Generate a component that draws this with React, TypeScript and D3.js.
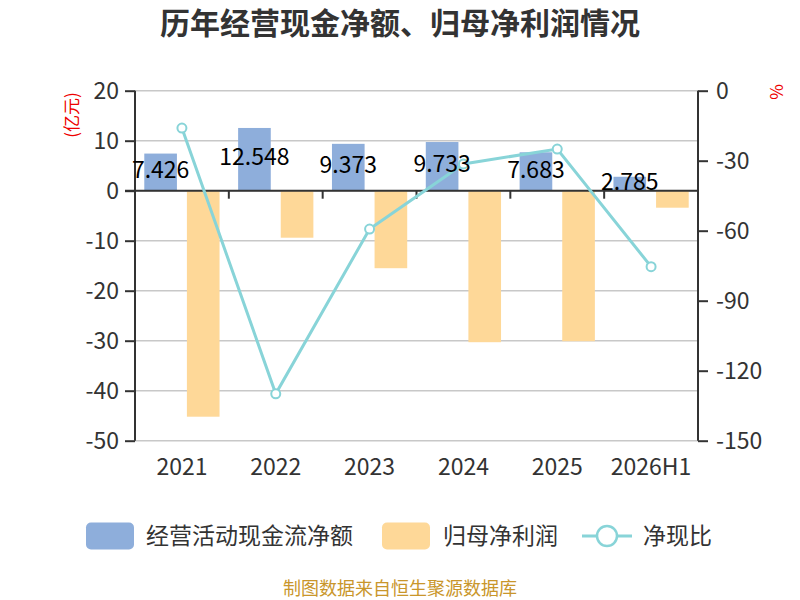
import { useEffect, useRef } from "react";
import * as d3 from "d3";

const categories = ["2021", "2022", "2023", "2024", "2025", "2026H1"];
const cashFlow = [7.426, 12.548, 9.373, 9.733, 7.683, 2.785];
const netProfit = [-45.2, -9.4, -15.5, -30.3, -30.1, -3.4];
const cashRatio = [-16.0, -129.9, -59.3, -31.4, -25.0, -75.4];
const leftTicks = [20, 10, 0, -10, -20, -30, -40, -50];
const rightTicks = [0, -30, -60, -90, -120, -150];

const FONT = "'Noto Sans CJK SC', 'Noto Sans', sans-serif";
const BLUE = "#8eaedb";
const ORANGE = "#fed898";
const TEAL = "#88d4d8";

export default function App() {
  const svgRef = useRef<SVGSVGElement>(null);

  useEffect(() => {
    if (!svgRef.current) return;
    const root = d3.select(svgRef.current);
    root.selectAll("*").remove();

    const margin = { top: 90.7, right: 102, bottom: 159.3, left: 135 };
    const width = 800 - margin.left - margin.right;
    const height = 600 - margin.top - margin.bottom;

    // title
    root.append("text")
      .attr("x", 400).attr("y", 23).attr("dy", "0.35em")
      .attr("text-anchor", "middle")
      .attr("font-family", FONT).attr("font-size", "30px").attr("font-weight", "700")
      .attr("fill", "#333")
      .text("历年经营现金净额、归母净利润情况");

    const g = root.append("g").attr("transform", `translate(${margin.left},${margin.top})`);

    const x0 = d3.scaleBand().domain(categories).range([0, width]);
    const x1 = d3.scaleBand().domain(["a", "b"]).range([0, x0.bandwidth()])
      .paddingInner(0.234).paddingOuter(0.218);
    const yL = d3.scaleLinear().domain([-50, 20]).range([height, 0]);
    const yR = d3.scaleLinear().domain([-150, 0]).range([height, 0]);

    // Grid lines
    g.selectAll(".grid")
      .data(leftTicks).enter().append("line")
      .attr("x1", 0).attr("x2", width)
      .attr("y1", d => yL(d)).attr("y2", d => yL(d))
      .attr("stroke", "#c8c8c8").attr("stroke-width", 1.5);

    // Blue bars
    g.selectAll(".bar-cash")
      .data(cashFlow).enter().append("rect")
      .attr("x", (_, i) => (x0(categories[i]) ?? 0) + (x1("a") ?? 0))
      .attr("y", d => yL(Math.max(0, d)))
      .attr("width", x1.bandwidth())
      .attr("height", d => Math.abs(yL(d) - yL(0)))
      .attr("fill", BLUE);

    // Orange bars
    g.selectAll(".bar-profit")
      .data(netProfit).enter().append("rect")
      .attr("x", (_, i) => (x0(categories[i]) ?? 0) + (x1("b") ?? 0))
      .attr("y", d => yL(Math.max(0, d)))
      .attr("width", x1.bandwidth())
      .attr("height", d => Math.abs(yL(d) - yL(0)))
      .attr("fill", ORANGE);

    const fmt = (d: d3.NumberValue) => String(d);

    // Left axis
    g.append("g")
      .call(d3.axisLeft(yL).tickValues(leftTicks).tickFormat(fmt).tickSize(10).tickPadding(6))
      .call(a => a.select(".domain").attr("stroke", "#333").attr("stroke-width", 2).attr("d", `M0,${height}V0`))
      .call(a => a.selectAll(".tick line").attr("stroke", "#333").attr("stroke-width", 2))
      .call(a => a.selectAll(".tick text").attr("fill", "#333").attr("font-size", "23px").attr("font-family", FONT));

    // Right axis
    g.append("g")
      .attr("transform", `translate(${width},0)`)
      .call(d3.axisRight(yR).tickValues(rightTicks).tickFormat(fmt).tickSize(10).tickPadding(8))
      .call(a => a.select(".domain").attr("stroke", "#333").attr("stroke-width", 2).attr("d", `M0,${height}V0`))
      .call(a => a.selectAll(".tick line").attr("stroke", "#333").attr("stroke-width", 2))
      .call(a => a.selectAll(".tick text").attr("fill", "#333").attr("font-size", "23px").attr("font-family", FONT));

    // Zero line / category axis
    g.append("line")
      .attr("x1", -10).attr("x2", width)
      .attr("y1", yL(0)).attr("y2", yL(0))
      .attr("stroke", "#333").attr("stroke-width", 2);
    g.selectAll(".cat-tick")
      .data(categories.slice(1)).enter().append("line")
      .attr("x1", d => x0(d) ?? 0).attr("x2", d => x0(d) ?? 0)
      .attr("y1", yL(0)).attr("y2", yL(0) + 8)
      .attr("stroke", "#333").attr("stroke-width", 2);

    // Category labels
    g.selectAll(".cat-label")
      .data(categories).enter().append("text")
      .attr("x", d => (x0(d) ?? 0) + x0.bandwidth() / 2)
      .attr("y", height + 26).attr("dy", "0.35em")
      .attr("text-anchor", "middle")
      .attr("fill", "#333").attr("font-size", "23px").attr("font-family", FONT)
      .text(d => d);

    // Line
    const line = d3.line<number>()
      .x((_, i) => (x0(categories[i]) ?? 0) + x0.bandwidth() / 2)
      .y(d => yR(d));
    g.append("path")
      .datum(cashRatio)
      .attr("d", line)
      .attr("fill", "none").attr("stroke", TEAL).attr("stroke-width", 3);
    g.selectAll(".dot")
      .data(cashRatio).enter().append("circle")
      .attr("cx", (_, i) => (x0(categories[i]) ?? 0) + x0.bandwidth() / 2)
      .attr("cy", d => yR(d))
      .attr("r", 4.5)
      .attr("fill", "#fff").attr("stroke", TEAL).attr("stroke-width", 2);

    // Data labels for blue bars
    g.selectAll(".val-label")
      .data(cashFlow).enter().append("text")
      .attr("x", (_, i) => (x0(categories[i]) ?? 0) + (x1("a") ?? 0) + x1.bandwidth() / 2)
      .attr("y", d => (yL(d) + yL(0)) / 2 - 2).attr("dy", "0.35em")
      .attr("text-anchor", "middle")
      .attr("fill", "#000").attr("font-size", "23px").attr("font-family", FONT)
      .text(d => d3.format(".3f")(d));

    // Axis unit labels
    root.append("text")
      .attr("transform", "translate(72,115) rotate(-90)")
      .attr("text-anchor", "middle").attr("dy", "0.35em")
      .attr("fill", "#e00").attr("font-size", "17px").attr("font-family", FONT)
      .text("(亿元)");
    root.append("text")
      .attr("transform", "translate(777,92) rotate(-90)")
      .attr("text-anchor", "middle").attr("dy", "0.35em")
      .attr("fill", "#e00").attr("font-size", "17px").attr("font-family", FONT)
      .text("%");

    // Legend
    const lg = root.append("g").attr("transform", "translate(0,536)");
    lg.append("rect").attr("x", 86).attr("y", -13.5).attr("width", 48).attr("height", 27).attr("rx", 5).attr("fill", BLUE);
    lg.append("text").attr("x", 146).attr("dy", "0.35em")
      .attr("fill", "#333").attr("font-size", "23px").attr("font-family", FONT)
      .text("经营活动现金流净额");
    lg.append("rect").attr("x", 382).attr("y", -13.5).attr("width", 48).attr("height", 27).attr("rx", 5).attr("fill", ORANGE);
    lg.append("text").attr("x", 443).attr("dy", "0.35em")
      .attr("fill", "#333").attr("font-size", "23px").attr("font-family", FONT)
      .text("归母净利润");
    lg.append("line").attr("x1", 582).attr("x2", 632).attr("y1", 0).attr("y2", 0)
      .attr("stroke", TEAL).attr("stroke-width", 3);
    lg.append("circle").attr("cx", 607).attr("cy", 0).attr("r", 10)
      .attr("fill", "#fff").attr("stroke", TEAL).attr("stroke-width", 2.5);
    lg.append("text").attr("x", 643).attr("dy", "0.35em")
      .attr("fill", "#333").attr("font-size", "23px").attr("font-family", FONT)
      .text("净现比");

    // Source
    root.append("text")
      .attr("x", 400).attr("y", 589).attr("dy", "0.35em")
      .attr("text-anchor", "middle")
      .attr("fill", "#c9962b").attr("font-size", "18px").attr("font-family", FONT)
      .text("制图数据来自恒生聚源数据库");
  }, []);

  return (
    <svg ref={svgRef} width={800} height={600}
      style={{ position: "absolute", left: 0, top: 0, background: "#fff" }} />
  );
}
